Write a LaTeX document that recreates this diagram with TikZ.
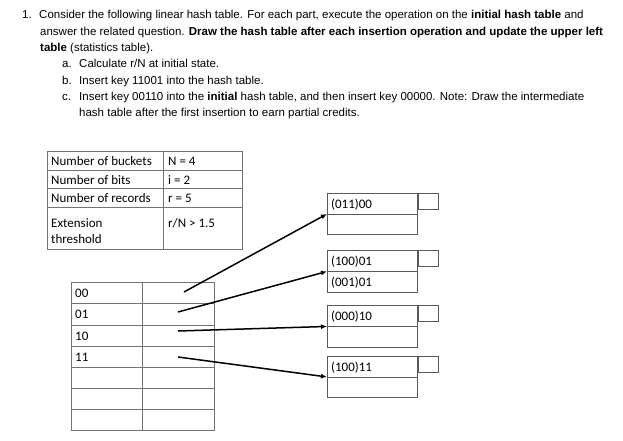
\documentclass[tikz,border=0pt]{standalone}
\usepackage{fontspec}
\setmainfont{Liberation Sans}
\newfontfamily\calfont{Carlito}
\usetikzlibrary{arrows.meta}
\tikzset{
  qtext/.style={anchor=base west, inner sep=0pt, font=\fontsize{11.5}{13}\selectfont},
  ctext/.style={anchor=base west, inner sep=0pt, font=\calfont\fontsize{13}{15}\selectfont},
  grid/.style={draw=black!55, line width=0.9pt},
  bucketbox/.style={draw=black!65, line width=0.9pt, minimum width=90pt, inner sep=0pt, anchor=north west},
  pointer/.style={line width=1.5pt, -{Latex[length=6pt,width=5pt]}}
}
\begin{document}
\begin{tikzpicture}[x=1pt,y=-1pt]
\useasboundingbox (0,0) rectangle (623,441);
% question text
\node[qtext] (n1) at (22,19) {1.};
\node[qtext] (l1) at (39,19) {Consider the following linear hash table. For each part, execute the operation on the \textbf{initial hash table} and};
\node[qtext] (l2) at (40,35.3) {answer the related question. \textbf{Draw the hash table after each insertion operation and update the upper left}};
\node[qtext] (l3) at (40,51.6) {\textbf{table} (statistics table).};
\node[qtext] (na) at (62,67.9) {a.};
\node[qtext] (la) at (79,67.9) {Calculate r/N at initial state.};
\node[qtext] (nb) at (62,84.2) {b.};
\node[qtext] (lb) at (79,84.2) {Insert key 11001 into the hash table.};
\node[qtext] (nc) at (62,100.5) {c.};
\node[qtext] (lc) at (79,100.5) {Insert key 00110 into the \textbf{initial} hash table, and then insert key 00000. Note: Draw the intermediate};
\node[qtext] (ld) at (79,116.8) {hash table after the first insertion to earn partial credits.};

% statistics table
\draw[grid] (47,151) rectangle (242,249);
\draw[grid] (163,151) -- (163,249);
\foreach \y in {170,188,207} \draw[grid] (47,\y) -- (242,\y);
\node[ctext] (s1) at (51,165) {Number of buckets};
\node[ctext] (s2) at (51,184) {Number of bits};
\node[ctext] (s3) at (51,202) {Number of records};
\node[ctext] (s4) at (51,227) {Extension};
\node[ctext] (s5) at (51,243) {threshold};
\node[ctext] (v1) at (168,165) {N = 4};
\node[ctext] (v2) at (168,184) {i = 2};
\node[ctext] (v3) at (168,202) {r = 5};
\node[ctext] (v4) at (168,227) {r/N > 1.5};

% directory table
\draw[grid] (71,282) rectangle (214,430);
\draw[grid] (142,282) -- (142,430);
\foreach \y in {303,325,346,367,388,409} \draw[grid] (71,\y) -- (214,\y);
\node[ctext] (d0) at (75,297) {00};
\node[ctext] (d1) at (75,318) {01};
\node[ctext] (d2) at (75,340) {10};
\node[ctext] (d3) at (75,361) {11};
\coordinate (p0) at (184,292);
\coordinate (p1) at (178,312);
\coordinate (p2) at (178,331);
\coordinate (p3) at (178,357);

% buckets
\node[bucketbox, minimum height=41pt] (b1) at (327,193) {};
\node[bucketbox, minimum height=42pt] (b2) at (327,250) {};
\node[bucketbox, minimum height=42pt] (b3) at (327,305) {};
\node[bucketbox, minimum height=41pt] (b4) at (327,356) {};
\foreach \b in {b1,b2,b3,b4} \draw[draw=black!65, line width=0.9pt] (\b.west) -- (\b.east);
\node[bucketbox, minimum width=20pt, minimum height=16pt] (o1) at (b1.north east) {};
\node[bucketbox, minimum width=20pt, minimum height=16pt] (o2) at (b2.north east) {};
\node[bucketbox, minimum width=20pt, minimum height=16pt] (o3) at (b3.north east) {};
\node[bucketbox, minimum width=20pt, minimum height=16pt] (o4) at (b4.north east) {};
\node[ctext] (k1) at (331,208) {(011)00};
\node[ctext] (k2a) at (331,265) {(100)01};
\node[ctext] (k2b) at (331,286) {(001)01};
\node[ctext] (k3) at (331,320) {(000)10};
\node[ctext] (k4) at (331,371) {(100)11};

% pointers
\draw[pointer] (p0) -- (b1.west);
\draw[pointer] (p1) -- (b2.west);
\draw[pointer] (p2) -- (b3.west);
\draw[pointer] (p3) -- (b4.west);
\end{tikzpicture}
\end{document}
